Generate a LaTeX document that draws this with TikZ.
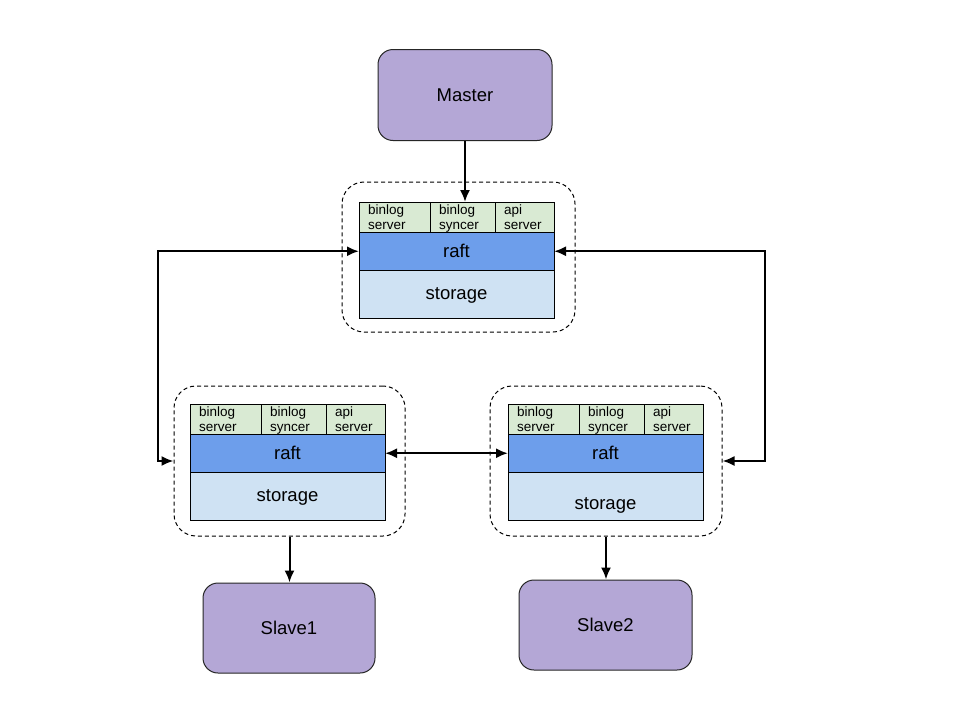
\documentclass[tikz,border=0pt]{standalone}
\usepackage{fontspec}
\setmainfont{Liberation Sans}
\usetikzlibrary{arrows.meta}
\definecolor{purplecol}{HTML}{B4A7D6}
\definecolor{greencol}{HTML}{D9EAD3}
\definecolor{raftcol}{HTML}{6D9EEB}
\definecolor{storecol}{HTML}{CFE2F3}
\tikzset{
  rolebox/.style={draw=black!85, fill=purplecol, rounded corners=15pt, line width=1pt,
    minimum width=174pt, minimum height=91pt, font=\fontsize{18.5}{20}\selectfont},
  cluster/.style={draw=black, dash pattern=on 4pt off 3pt, rounded corners=22pt, line width=1pt,
    minimum width=232pt, minimum height=150pt, inner sep=0pt},
  cell/.style={draw, fill=greencol, line width=1pt, outer sep=0pt, inner xsep=9pt, inner ysep=0pt,
    minimum height=30.5pt, align=left, font=\fontsize{13.5}{15.5}\selectfont},
  raftbox/.style={draw, fill=raftcol, line width=1pt, outer sep=0pt, inner sep=0pt,
    minimum width=195pt, minimum height=37.5pt, font=\fontsize{18.5}{20}\selectfont},
  storebox/.style={draw, fill=storecol, line width=1pt, outer sep=0pt, inner sep=0pt,
    minimum width=195pt, minimum height=48.5pt, font=\fontsize{18.5}{20}\selectfont},
  conn/.style={line width=2pt, -{Latex[length=12pt,width=10pt]}},
  bothconn/.style={line width=2pt, {Latex[length=12pt,width=10pt]}-{Latex[length=12pt,width=10pt]}},
}
\newcommand\cellpair[2]{\rule{0pt}{9.5pt}\smash{#1}\\\smash{#2}}
\newcommand\mystack[4]{%
  \node[cell, text width=53pt, anchor=north west] (#1a) at (#2,#3) {\cellpair{binlog}{server}};
  \node[cell, text width=47pt, anchor=north west] (#1b) at (#1a.north east) {\cellpair{binlog}{syncer}};
  \node[cell, text width=41pt, anchor=north west] (#1c) at (#1b.north east) {\cellpair{api}{server}};
  \node[raftbox, anchor=north west] (#1r) at (#1a.south west) {raft};
  \node[storebox, anchor=north west, #4] (#1s) at (#1r.south west) {storage};
}
\begin{document}
\begin{tikzpicture}[x=1pt,y=-1pt]
  \useasboundingbox[fill=white] (0,0) rectangle (960,720);
  % clusters
  \node[cluster, minimum width=233pt] (tclus) at (458.5,257) {};
  \node[cluster, minimum width=231pt] (lclus) at (289.5,461) {};
  \node[cluster, minimum width=232pt] (rclus) at (606,461) {};
  % stacks
  \mystack{t}{359}{202}{text depth=1pt}
  \mystack{l}{190}{404}{text depth=1pt}
  \mystack{r}{508}{404}{text height=30pt, text depth=4pt}
  % roles
  \node[rolebox] (master) at (465,95) {Master};
  \node[rolebox, minimum width=172pt, minimum height=90pt] (slave1) at (289,628) {Slave1};
  \node[rolebox, minimum width=173pt, minimum height=90pt] (slave2) at (605.5,625) {Slave2};
  % helper coordinates for the loops
  \coordinate (cL) at (158,0);
  \coordinate (cR) at (765,0);
  % connectors
  \draw[conn] (master.south) -- (master.south |- tb.north);
  \draw[bothconn] (tr.west) -- (tr.west -| cL) |- (lclus.west);
  \draw[bothconn] (tr.east) -- (tr.east -| cR) |- (rclus.east);
  \draw[bothconn] (lr.east) -- (rr.west);
  \draw[conn] (lclus.south) -- (lclus.south |- slave1.north);
  \draw[conn] (rclus.south) -- (rclus.south |- slave2.north);
\end{tikzpicture}
\end{document}
